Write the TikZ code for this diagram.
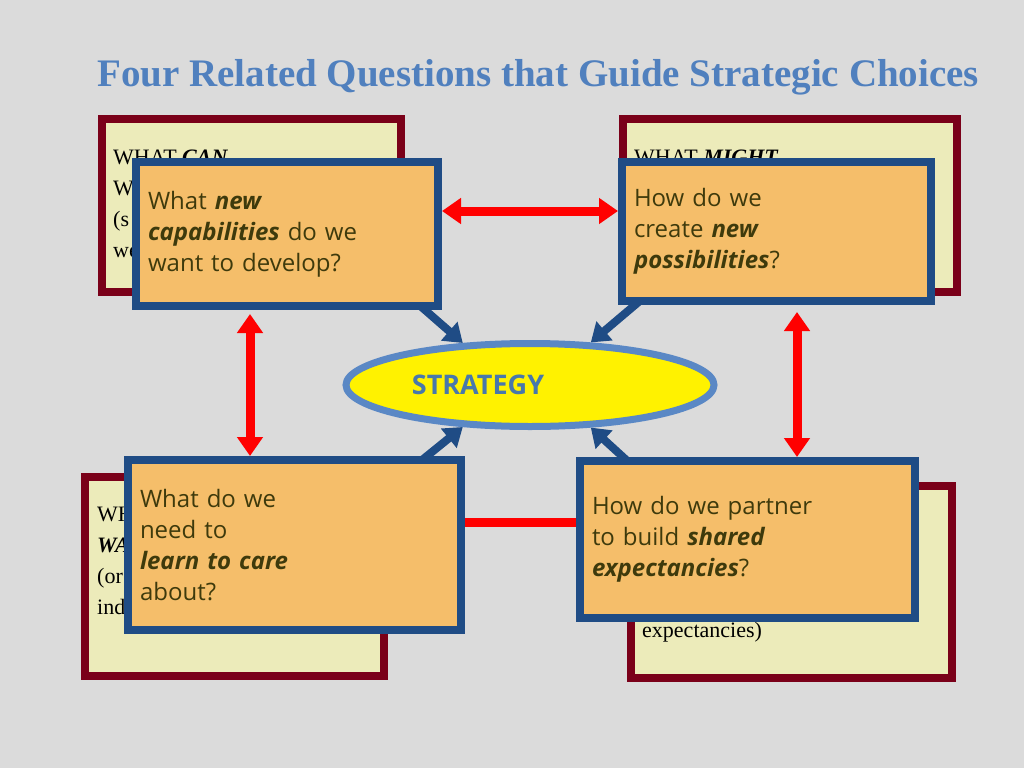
\documentclass[tikz,border=0pt]{standalone}
\usepackage{fontspec}
\setmainfont{Liberation Serif}
\newfontfamily\handfont{Open Sans}
\usetikzlibrary{arrows.meta,shapes.geometric}

\definecolor{slidegray}{RGB}{219,219,219}
\definecolor{titleblue}{RGB}{80,128,190}
\definecolor{boxmaroon}{RGB}{122,0,25}
\definecolor{paleyellow}{RGB}{236,235,186}
\definecolor{qorange}{RGB}{245,190,106}
\definecolor{qblue}{RGB}{31,76,133}
\definecolor{qtext}{RGB}{62,58,12}
\definecolor{ellblue}{RGB}{90,136,197}
\definecolor{stratblue}{RGB}{72,120,172}
\definecolor{linkred}{RGB}{255,0,0}

\newcommand{\hi}[1]{\textbf{\textit{#1}}}

\pgfdeclarelayer{backdrop}
\pgfdeclarelayer{links}
\pgfsetlayers{backdrop,links,main}

\tikzset{
  oldbox/.style={draw=boxmaroon, fill=paleyellow, line width=8pt, inner sep=0pt},
  oldtext/.style={anchor=north west, inner sep=0pt, align=left,
    font=\fontsize{22}{31}\selectfont},
  question/.style={draw=qblue, fill=qorange, line width=8pt, inner xsep=12pt,
    inner ysep=0pt, align=left, text=qtext,
    font=\handfont\fontsize{24}{31}\selectfont},
  redlink/.style={draw=linkred, line width=9pt,
    {Triangle[width=25pt,length=19pt]}-{Triangle[width=25pt,length=19pt]}},
  redline/.style={draw=linkred, line width=9pt},
  bluelink/.style={draw=qblue, line width=8pt, shorten <=-8pt,
    -{Triangle[width=24pt,length=18pt]}}
}

\begin{document}
\begin{tikzpicture}[x=1pt,y=1pt,yscale=-1]
\useasboundingbox (0,0) rectangle (1024,768);
\begin{pgfonlayer}{backdrop}
  \fill[slidegray] (0,0) rectangle (1024,768);
\end{pgfonlayer}

% title
\node[anchor=base west, inner sep=0pt, text=titleblue,
  font=\bfseries\fontsize{39}{39}\selectfont] (title) at (97,86)
  {Four Related Questions that Guide Strategic Choices};

% boxes behind
\node[oldbox, minimum width=299pt, minimum height=173pt] (otl) at (251.5,205.5) {};
\node[oldbox, minimum width=334pt, minimum height=173pt] (otr) at (790,205.5) {};
\node[oldbox, minimum width=299pt, minimum height=199pt] (obl) at (234.5,576.5) {};
\node[oldbox, minimum width=321pt, minimum height=192pt] (obr) at (791.5,582) {};

\node[oldtext] (otltext) at (113,150) {WHAT \hi{CAN}\\W\\(s\\we};
\node[oldtext] (otrtext) at (634,150) {WHAT \hi{MIGHT}};
\node[oldtext] (obltext) at (97,507) {WH\\\hi{WA}\\(or\\ind};
\node[oldtext] (obrtext) at (642,622) {expectancies)};

% strategy
\node[ellipse, draw=ellblue, fill=yellow, line width=7pt, inner sep=0pt,
  minimum width=368pt, minimum height=83pt] (st) at (530,385) {};
\node[text=stratblue, font=\handfont\bfseries\fontsize{27}{27}\selectfont]
  (stlabel) at (478,385) {STRATEGY};

% questions
\node[question, text width=278pt, minimum height=144pt] (tl) at (287,234)
  {What \hi{new}\\\hi{capabilities} do we\\want to develop?};
\node[question, text width=285pt, minimum height=139pt] (tr) at (776.5,231.5)
  {How do we\\create \hi{new}\\\hi{possibilities}?};
\node[question, text width=309pt, minimum height=170pt] (bl) at (294.5,545)
  {What do we\\need to\\\hi{learn to care}\\about?};
\node[question, text width=311pt, minimum height=157pt] (br) at (747.5,539.5)
  {How do we partner\\to build \hi{shared}\\\hi{expectancies}?};

\coordinate (rowtop) at (0,211);
\coordinate (rowbot) at (0,522);
\coordinate (colleft) at (250,0);
\coordinate (colright) at (797,0);

\begin{pgfonlayer}{links}
  \draw[redlink, shorten <=4pt] (tl.south -| colleft) -- (bl.north -| colleft);
  \draw[redlink, shorten <=7pt] (tr.south -| colright) -- (br.north -| colright);
  \draw[redlink] (tl.east |- rowtop) -- (tr.west |- rowtop);
  \draw[redline] (bl.east |- rowbot) -- (br.west |- rowbot);
  \draw[bluelink] ([xshift=-17pt]tl.south east) -- (st.148);
  \draw[bluelink] ([xshift=17pt]tr.south west) -- (st.35);
  \draw[bluelink] ([xshift=-38pt]bl.north east) -- (st.212);
  \draw[bluelink] ([xshift=47pt]br.north west) -- (st.325);
\end{pgfonlayer}
\end{tikzpicture}
\end{document}
